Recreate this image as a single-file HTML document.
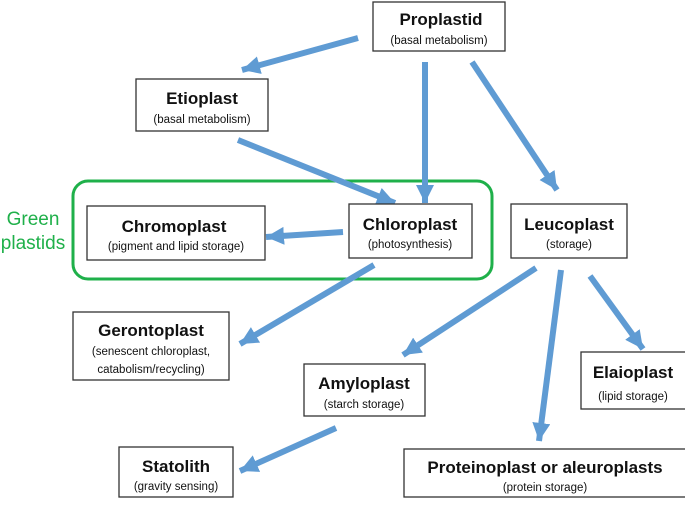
<!DOCTYPE html>
<html><head><style>
body{margin:0;background:#fff}
svg text{font-family:"Liberation Sans",sans-serif;text-anchor:middle}
.t{font-weight:bold;font-size:17px;fill:#111}
.s{font-size:11.5px;fill:#111}
.b{fill:#fff;stroke:#333;stroke-width:1.3}
.a{stroke:#5f9bd3;stroke-width:6;fill:none;marker-end:url(#m)}
</style></head><body>
<svg width="685" height="502" viewBox="0 0 685 502" xmlns="http://www.w3.org/2000/svg">
<defs><marker id="m" markerUnits="userSpaceOnUse" markerWidth="22" markerHeight="22" refX="18" refY="9" orient="auto"><path d="M0,0 L18,9 L0,18 Z" fill="#5f9bd3"/></marker></defs>
<rect x="73" y="181" width="419" height="98" rx="15" fill="none" stroke="#1fb04a" stroke-width="3"/>
<text x="33" y="225" font-size="19" fill="#1fb04a">Green</text>
<text x="33" y="249" font-size="19" fill="#1fb04a">plastids</text>
<g>
<line class="a" x1="358" y1="38" x2="242" y2="70"/>
<line class="a" x1="425" y1="62" x2="425" y2="203"/>
<line class="a" x1="472" y1="62" x2="557" y2="190"/>
<line class="a" x1="238" y1="140" x2="395" y2="203"/>
<line class="a" x1="343" y1="232" x2="266" y2="237"/>
<line class="a" x1="374" y1="265" x2="240" y2="344"/>
<line class="a" x1="536" y1="268" x2="403" y2="355"/>
<line class="a" x1="561" y1="270" x2="539" y2="441"/>
<line class="a" x1="590" y1="276" x2="643" y2="349"/>
<line class="a" x1="336" y1="428" x2="240" y2="471"/>
</g>
<rect class="b" x="373" y="2" width="132" height="49"/>
<text class="t" x="441" y="25">Proplastid</text><text class="s" x="439" y="44">(basal metabolism)</text>
<rect class="b" x="136" y="104" width="132" height="69" style="display:none"/>
<rect class="b" x="136" y="79" width="132" height="52"/>
<text class="t" x="202" y="104">Etioplast</text><text class="s" x="202" y="123">(basal metabolism)</text>
<rect class="b" x="87" y="206" width="178" height="54"/>
<text class="t" x="174" y="232">Chromoplast</text><text class="s" x="176" y="250">(pigment and lipid storage)</text>
<rect class="b" x="349" y="204" width="123" height="54"/>
<text class="t" x="410" y="230">Chloroplast</text><text class="s" x="410" y="248">(photosynthesis)</text>
<rect class="b" x="511" y="204" width="116" height="54"/>
<text class="t" x="569" y="230">Leucoplast</text><text class="s" x="569" y="248">(storage)</text>
<rect class="b" x="73" y="312" width="156" height="68"/>
<text class="t" x="151" y="336">Gerontoplast</text><text class="s" x="151" y="355">(senescent chloroplast,</text><text class="s" x="151" y="373">catabolism/recycling)</text>
<rect class="b" x="304" y="364" width="121" height="52"/>
<text class="t" x="364" y="389">Amyloplast</text><text class="s" x="364" y="408">(starch storage)</text>
<rect class="b" x="581" y="352" width="105" height="57"/>
<text class="t" x="633" y="378">Elaioplast</text><text class="s" x="633" y="400">(lipid storage)</text>
<rect class="b" x="119" y="447" width="114" height="50"/>
<text class="t" x="176" y="472">Statolith</text><text class="s" x="176" y="490">(gravity sensing)</text>
<rect class="b" x="404" y="449" width="282" height="48"/>
<text class="t" x="545" y="473">Proteinoplast or aleuroplasts</text><text class="s" x="545" y="491">(protein storage)</text>
</svg>
</body></html>
